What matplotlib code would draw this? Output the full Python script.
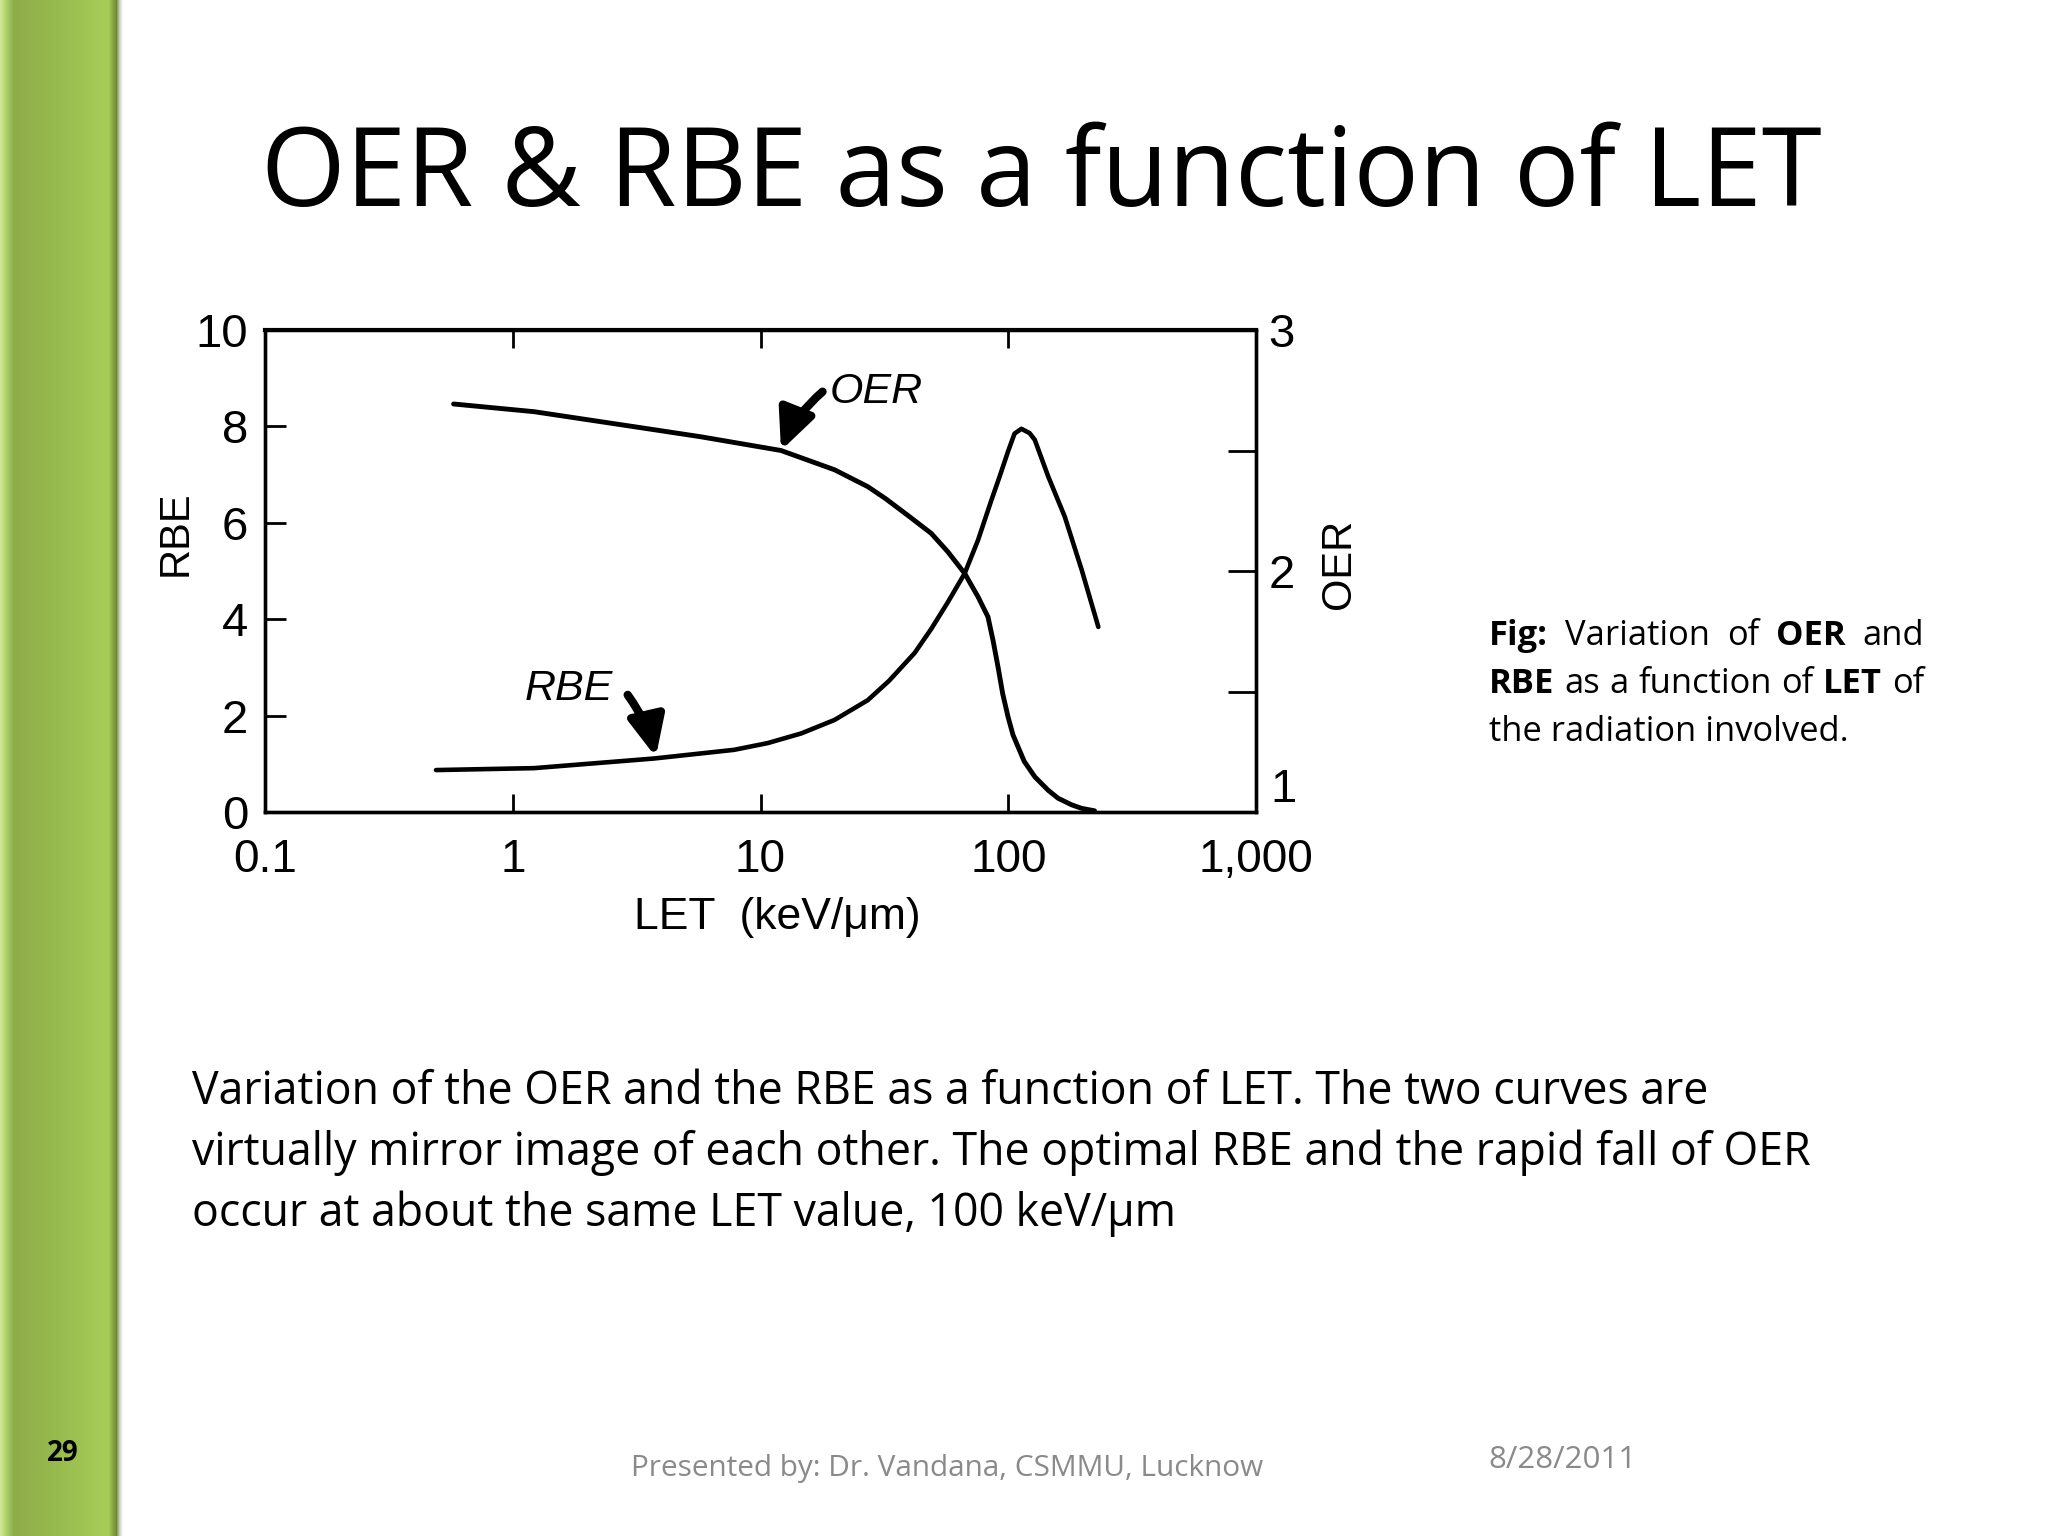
import numpy as np
import matplotlib
matplotlib.use("Agg")
import matplotlib.pyplot as plt
from matplotlib.transforms import IdentityTransform
from matplotlib.ticker import NullLocator

# values
let_rbe = [0.49, 1.22, 3.72, 7.83, 10.7, 14.6, 19.9, 27.1, 33, 41.9, 48.9, 57, 66.7, 75.5,
           85.5, 92.3, 99.8, 106, 113, 122, 128, 145, 169, 198, 231]
rbe = [0.87, 0.91, 1.11, 1.29, 1.43, 1.63, 1.91, 2.32, 2.72, 3.30, 3.80, 4.35, 4.95, 5.64,
       6.47, 6.96, 7.48, 7.85, 7.95, 7.86, 7.72, 6.96, 6.13, 5.02, 3.84]

let_oer = [0.577, 1.22, 3.08, 5.74, 12.1, 19.9, 27.1, 32, 40, 48.9, 57, 66.7, 75.5, 82.8,
           86.9, 91, 95, 99.8, 104.5, 116, 128, 145, 159, 180, 198, 223]
oer = [2.693, 2.661, 2.599, 2.557, 2.50, 2.42, 2.35, 2.30, 2.225, 2.156, 2.08, 1.99, 1.893, 1.81,
       1.71, 1.60, 1.49, 1.395, 1.32, 1.21, 1.146, 1.09, 1.057, 1.03, 1.015, 1.005]

x_ticks = [0.1, 1, 10, 100, 1000]
x_labels = ["0.1", "1", "10", "100", "1,000"]
rbe_ticks = [0, 2, 4, 6, 8, 10]
oer_ticks = [1, 1.5, 2, 2.5, 3]
oer_labels = ["", "", "2", "", "3"]

title = "OER & RBE as a function of LET"
body = ["Variation of the OER and the RBE as a function of LET. The two curves are",
        "virtually mirror image of each other. The optimal RBE and the rapid fall of OER",
        "occur at about the same LET value, 100 keV/\u00b5m"]
caption = [[("Fig:", True), ("Variation", False), ("of", False), ("OER", True), ("and", False)],
           [("RBE", True), ("as", False), ("a", False), ("function", False), ("of", False),
            ("LET", True), ("of", False)],
           [("the radiation involved.", False)]]
footer = "Presented by: Dr. Vandana, CSMMU, Lucknow"
date = "8/28/2011"
page = "29"

W, H = 2048, 1536
SLIDE_FONT = "Open Sans"
plt.rcParams["font.family"] = ["Liberation Sans", "DejaVu Sans"]

fig = plt.figure(figsize=(W / 100, H / 100), dpi=100)
fig.patch.set_facecolor("white")
pix = IdentityTransform()
r = fig.canvas.get_renderer()


def width_of(t):
    return t.get_window_extent(r).width


def fit(t, target):
    t.set_fontsize(t.get_fontsize() * target / width_of(t))


# green side bar
bar = fig.add_axes([0, 0, 123 / W, 1])
sx = [0, 3, 8, 13, 60, 108, 112, 116, 119, 122]
cols = np.array([[205, 232, 150], [190, 222, 120], [160, 200, 95], [142, 173, 74], [152, 188, 80],
                 [168, 205, 86], [140, 170, 68], [110, 138, 54], [200, 205, 195], [245, 247, 244]]) / 255
px = np.arange(123)
grad = np.stack([np.interp(px, sx, cols[:, k]) for k in range(3)], axis=-1)[None, :, :]
bar.imshow(grad, aspect="auto", extent=[0, 123, 0, 1])
bar.axis("off")

# chart
ax = fig.add_axes([265 / W, 1 - 812 / H, 991 / W, 482 / H])
ax.set_xscale("log")
ax.set_xlim(0.1, 1000)
ax.set_ylim(0, 10)
ax.plot(let_rbe, rbe, color="black", lw=3.3, solid_joinstyle="round", solid_capstyle="round")

ax2 = ax.twinx()
ax2.set_ylim(1, 3)
ax2.plot(let_oer, oer, color="black", lw=3.5, solid_joinstyle="round", solid_capstyle="round")

ax.set_xticks(x_ticks)
ax.set_xticklabels(x_labels)
ax.xaxis.set_minor_locator(NullLocator())
ax.set_yticks(rbe_ticks)
ax2.set_yticks(oer_ticks)
ax2.set_yticklabels(oer_labels)
ax.tick_params(axis="x", direction="in", top=True, length=13, width=2, labelsize=33, pad=19)
ax.tick_params(axis="y", direction="in", length=15, width=2, labelsize=34, pad=12)
ax2.tick_params(axis="y", direction="in", length=20, width=2, labelsize=34, pad=9)
for a in (ax, ax2):
    for s in a.spines.values():
        s.set_linewidth(2.4)
ax.spines["top"].set_linewidth(3)

# the lowest OER label sits a little above the axis in the scan
fig.text(1270, H - 790, "1", transform=pix, ha="left", va="center", fontsize=34)

fig.text(777, H - 918, "LET  (keV/\u03bcm)", transform=pix, ha="center", va="center", fontsize=32)
fig.text(176, H - 533, "RBE", transform=pix, ha="center", va="center", rotation=90, fontsize=30)
fig.text(1339, H - 564, "OER", transform=pix, ha="center", va="center", rotation=90, fontsize=30)

arrow = dict(arrowstyle="-|>,head_length=1.2,head_width=0.55", color="black", lw=6,
             shrinkA=0, shrinkB=0, mutation_scale=20)
ax.text(19.1, 8.71, "OER", style="italic", fontsize=31, ha="left", va="center")
ax.annotate("", xy=(12.1, 7.50), xytext=(17.8, 8.72),
            arrowprops=dict(arrow, connectionstyle="arc3,rad=0.12"))
ax.text(1.68, 2.55, "RBE", style="italic", fontsize=31, ha="center", va="center")
ax.annotate("", xy=(3.78, 1.14), xytext=(2.91, 2.43),
            arrowprops=dict(arrow, connectionstyle="arc3,rad=-0.1"))

# slide text
t = fig.text(1041, H - 206, title, transform=pix, ha="center", va="baseline",
             family=SLIDE_FONT, fontsize=80)
fit(t, 1561)

lines = []
for i, s in enumerate(body):
    lines.append(fig.text(192, H - 1104 - 61 * i, s, transform=pix, ha="left", va="baseline",
                          family=SLIDE_FONT, fontsize=30))
fit(lines[1], 1617)
for ln in lines:
    ln.set_fontsize(lines[1].get_fontsize())

# caption, justified like the slide
cap_size = 22
probe = fig.text(0, 0, "RBE as a function of LET of", family=SLIDE_FONT, fontsize=cap_size)
cap_size *= 425 / width_of(probe)
probe.remove()
x0, x1 = 1489, 1924
for i, words in enumerate(caption):
    y = H - 645 - 48 * i
    ts = [fig.text(0, y, w, transform=pix, ha="left", va="baseline", family=SLIDE_FONT,
                   fontsize=cap_size, fontweight="bold" if b else "normal") for w, b in words]
    ws = [width_of(k) for k in ts]
    gap = (x1 - x0 - sum(ws)) / (len(ts) - 1) if len(ts) > 1 else 0
    x = x0
    for k, w in zip(ts, ws):
        k.set_x(x)
        x += w + gap

fig.text(947, H - 1476, footer, transform=pix, ha="center", va="baseline", family=SLIDE_FONT,
         fontsize=21.4, color="#8a8a8a")
fig.text(1562, H - 1468, date, transform=pix, ha="center", va="baseline", family=SLIDE_FONT,
         fontsize=22.5, color="#8a8a8a")
fig.text(63, H - 1461, page, transform=pix, ha="center", va="baseline", family=SLIDE_FONT,
         fontsize=20, fontweight="bold", color="black")

fig.savefig("out.png", dpi=100, facecolor="white")
